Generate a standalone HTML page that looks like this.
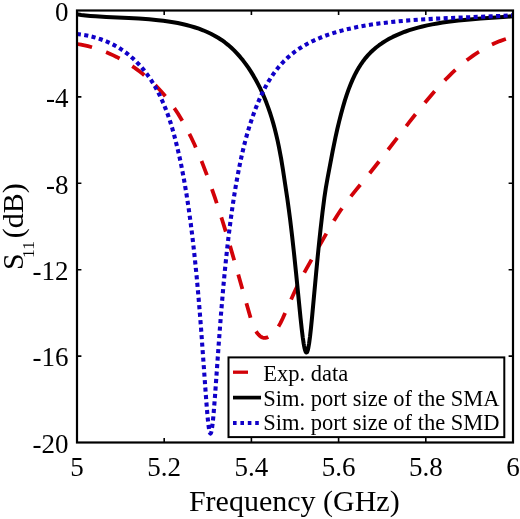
<!DOCTYPE html>
<html><head><meta charset="utf-8"><title>S11 vs Frequency</title><style>
html,body{margin:0;padding:0;background:#fff;width:520px;height:519px;overflow:hidden}
svg{display:block}
text{font-family:"Liberation Serif","Times New Roman",serif;fill:#000}
</style></head><body>
<svg width="520" height="519" viewBox="0 0 520 519">
<rect width="520" height="519" fill="#fff"/>
<g fill="none" stroke-linejoin="round">
<path d="M77.00,43.93 L81.00,44.65 L84.52,45.38 L88.01,46.21 L91.96,47.27 L95.39,48.30 L99.26,49.58 L102.62,50.80 L106.41,52.29 L109.68,53.68 L113.38,55.38 L116.57,56.94 L120.17,58.83 L123.27,60.56 L126.77,62.63 L130.20,64.79 L133.57,67.05 L136.47,69.10 L139.73,71.52 L142.92,74.02 L146.04,76.61 L149.09,79.27 L152.07,82.01 L154.98,84.83 L157.81,87.72 L160.56,90.68 L163.24,93.70 L165.83,96.79 L168.34,99.93 L170.77,103.14 L173.13,106.40 L175.42,109.72 L177.90,113.51 L182.11,120.40 L184.12,123.91 L186.32,127.90 L190.49,136.03 L194.40,144.31 L198.30,153.19 L202.35,163.13 L206.56,174.10 L210.91,186.07 L214.73,197.12 L218.57,208.67 L222.42,220.73 L226.43,233.78 L230.03,245.90 L233.98,259.49 L249.47,314.07 L251.63,321.41 L252.96,325.29 L254.18,328.13 L255.42,330.45 L256.92,332.69 L258.31,334.39 L259.86,335.90 L260.68,336.53 L261.52,337.07 L262.38,337.50 L263.26,337.80 L264.60,337.97 L265.50,337.89 L266.40,337.67 L268.16,336.95 L270.22,335.77 L272.13,334.33 L273.89,332.66 L275.53,330.80 L277.05,328.76 L278.74,326.14 L280.55,322.89 L282.69,318.52 L291.45,298.66 L295.16,290.58 L298.66,283.43 L302.83,275.41 L306.21,269.17 L310.17,262.06 L328.49,229.79 L331.82,224.14 L334.70,219.40 L337.66,214.72 L340.45,210.52 L345.10,203.93 L350.61,196.66 L355.67,190.31 L369.24,173.76 L376.24,165.02 L385.30,153.39 L409.10,122.37 L416.32,113.21 L423.03,104.94 L429.55,97.17 L435.56,90.28 L441.38,83.90 L447.01,78.03 L452.43,72.70 L457.65,67.90 L463.02,63.29 L468.16,59.21 L473.47,55.35 L478.94,51.72 L484.16,48.60 L489.55,45.72 L494.64,43.30 L499.88,41.11 L504.29,39.49 L513.00,36.61" stroke="#d20208" stroke-width="3.8" stroke-dasharray="15 14.84" stroke-dashoffset="-0.4"/>
<path d="M77.00,14.33 L81.23,14.93 L85.54,15.44 L90.41,15.91 L95.63,16.32 L106.22,16.96 L128.76,17.99 L138.76,18.54 L149.07,19.27 L158.15,20.14 L163.28,20.75 L168.37,21.45 L173.19,22.22 L177.73,23.05 L182.21,23.99 L186.42,24.98 L190.56,26.08 L194.42,27.23 L198.88,28.71 L203.04,30.27 L207.10,31.98 L210.87,33.74 L214.53,35.66 L218.10,37.74 L221.56,39.97 L224.73,42.24 L227.97,44.81 L231.10,47.54 L234.12,50.41 L237.18,53.59 L240.12,56.91 L242.94,60.35 L245.78,64.10 L248.49,67.95 L251.08,71.89 L253.53,75.91 L255.86,80.00 L258.18,84.33 L260.37,88.72 L262.53,93.37 L264.55,98.08 L266.46,102.82 L268.32,107.84 L270.06,112.90 L271.69,118.00 L273.27,123.36 L274.80,128.99 L276.22,134.66 L277.59,140.59 L278.90,146.79 L281.09,158.34 L282.92,169.50 L287.31,198.50 L288.75,208.93 L290.16,219.84 L292.07,235.73 L294.00,253.12 L296.06,273.01 L300.51,317.79 L301.70,328.73 L302.74,337.17 L303.68,343.60 L304.12,346.06 L304.63,348.50 L305.01,349.96 L305.51,351.37 L306.01,352.23 L306.43,352.49 L306.87,352.28 L307.15,351.87 L307.36,351.42 L307.83,350.00 L308.18,348.54 L309.07,343.62 L310.01,336.68 L310.96,328.23 L312.05,317.29 L316.00,274.47 L317.71,256.55 L319.16,242.13 L320.55,229.20 L322.50,212.31 L324.39,197.50 L325.82,188.00 L327.58,178.00 L332.61,151.27 L335.47,137.30 L337.27,129.25 L339.16,121.38 L341.12,113.70 L343.04,106.68 L344.83,100.62 L346.69,94.84 L348.62,89.37 L350.53,84.45 L352.58,79.64 L354.69,75.17 L356.85,71.04 L359.16,67.05 L361.26,63.79 L363.48,60.65 L365.69,57.83 L368.03,55.12 L370.49,52.56 L373.23,49.97 L376.10,47.52 L379.09,45.21 L382.19,43.03 L385.60,40.86 L389.12,38.83 L392.75,36.93 L396.69,35.07 L400.74,33.34 L404.88,31.74 L409.33,30.19 L413.64,28.84 L418.01,27.60 L422.45,26.47 L427.17,25.38 L432.19,24.35 L437.24,23.42 L442.56,22.56 L448.14,21.75 L458.34,20.52 L469.89,19.41 L480.74,18.57 L503.18,17.01 L513.00,16.22" stroke="#000" stroke-width="4"/>
<path d="M77.00,34.01 L81.13,34.54 L85.35,35.24 L89.16,36.01 L93.15,36.97 L97.02,38.07 L100.78,39.29 L104.42,40.64 L107.94,42.11 L111.36,43.71 L114.67,45.42 L117.88,47.24 L121.20,49.32 L124.40,51.51 L127.49,53.83 L130.46,56.26 L133.33,58.80 L136.09,61.45 L138.93,64.38 L141.48,67.23 L144.09,70.38 L146.60,73.63 L149.14,77.18 L151.43,80.63 L153.76,84.38 L155.97,88.22 L158.08,92.15 L160.10,96.17 L162.12,100.49 L164.04,104.90 L165.96,109.63 L167.61,114.00 L169.35,119.00 L170.81,123.50 L172.31,128.50 L173.86,134.00 L175.31,139.50 L176.94,146.00 L178.53,152.71 L179.95,159.05 L181.29,165.41 L183.84,178.67 L186.22,192.46 L188.58,207.78 L190.76,223.63 L192.78,240.01 L194.72,257.40 L196.58,275.81 L198.35,295.23 L199.73,311.67 L201.10,329.11 L205.94,396.44 L206.82,407.91 L207.60,416.87 L208.37,424.33 L209.06,429.29 L209.33,430.76 L209.68,432.22 L210.02,433.16 L210.34,433.54 L210.76,433.36 L210.99,432.92 L211.42,431.48 L211.81,429.52 L212.63,423.58 L213.52,414.62 L214.96,396.68 L218.77,343.32 L220.94,314.90 L223.36,286.50 L224.63,273.06 L225.88,260.63 L227.10,249.19 L228.36,238.26 L229.64,227.84 L230.93,217.93 L232.25,208.52 L233.65,199.12 L235.07,190.23 L236.59,181.36 L238.31,172.02 L240.17,162.70 L242.08,153.91 L244.07,145.50 L246.02,138.00 L248.01,131.00 L250.17,124.00 L252.52,117.00 L255.06,109.98 L257.47,103.85 L259.95,98.06 L262.62,92.38 L265.34,87.09 L268.25,81.94 L271.21,77.19 L274.35,72.62 L277.53,68.45 L280.71,64.66 L284.06,61.07 L287.40,57.86 L291.10,54.66 L294.95,51.66 L298.96,48.85 L303.34,46.09 L307.87,43.53 L312.77,41.04 L317.80,38.74 L322.97,36.62 L328.50,34.60 L334.40,32.67 L340.41,30.94 L346.76,29.30 L352.93,27.91 L359.41,26.60 L365.94,25.44 L373.02,24.33 L380.38,23.32 L388.52,22.35 L397.12,21.44 L405.91,20.64 L420.42,19.56 L436.41,18.64 L451.61,17.94 L490.77,16.38 L502.29,15.83 L513.00,15.23" stroke="#1000c8" stroke-width="4.1" stroke-dasharray="4.1 3.404" stroke-dashoffset="0.2"/>
</g>
<path d="M164.20,442.50V438.10M164.20,10.50V14.90M251.40,442.50V438.10M251.40,10.50V14.90M338.60,442.50V438.10M338.60,10.50V14.90M425.80,442.50V438.10M425.80,10.50V14.90M77.00,96.90H81.40M513.00,96.90H508.60M77.00,183.30H81.40M513.00,183.30H508.60M77.00,269.70H81.40M513.00,269.70H508.60M77.00,356.10H81.40M513.00,356.10H508.60" stroke="#000" stroke-width="1.6" fill="none"/>
<rect x="77" y="10.5" width="436" height="432.0" fill="none" stroke="#000" stroke-width="2.2"/>
<g font-size="27">
<text x="77.00" y="476" text-anchor="middle">5</text>
<text x="164.20" y="476" text-anchor="middle">5.2</text>
<text x="251.40" y="476" text-anchor="middle">5.4</text>
<text x="338.60" y="476" text-anchor="middle">5.6</text>
<text x="425.80" y="476" text-anchor="middle">5.8</text>
<text x="513.00" y="476" text-anchor="middle">6</text>
<text x="68.5" y="20.70" text-anchor="end">0</text>
<text x="68.5" y="107.10" text-anchor="end">-4</text>
<text x="68.5" y="193.50" text-anchor="end">-8</text>
<text x="68.5" y="279.90" text-anchor="end">-12</text>
<text x="68.5" y="366.30" text-anchor="end">-16</text>
<text x="68.5" y="452.70" text-anchor="end">-20</text>
</g>
<text x="294.3" y="510.8" font-size="30" text-anchor="middle">Frequency (GHz)</text>
<g transform="rotate(-90)">
<text x="-269.9" y="23.2" font-size="30">S</text>
<text x="-257.9" y="34.3" font-size="17.5">11</text>
<text x="-238.3" y="23.2" font-size="30">(dB)</text>
</g>
<rect x="228.5" y="357.4" width="275.8" height="79.7" fill="#fff" stroke="#000" stroke-width="2"/>
<path d="M233,372.2H248" stroke="#d20208" stroke-width="3.3"/>
<path d="M233,397.6H261" stroke="#000" stroke-width="3.7"/>
<path d="M233,423H261" stroke="#1000c8" stroke-width="4" stroke-dasharray="3.6 3.8"/>
<g font-size="22.5">
<text x="263.3" y="380.5">Exp. data</text>
<text x="263.3" y="405.8">Sim. port size of the SMA</text>
<text x="263.3" y="430.4">Sim. port size of the SMD</text>
</g>
</svg>
</body></html>
